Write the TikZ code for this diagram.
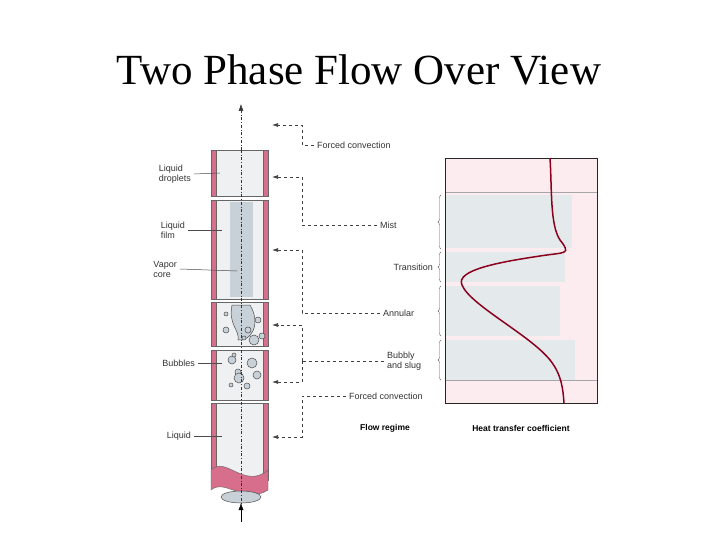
\documentclass[tikz,border=0pt]{standalone}
\usepackage{fontspec}
\setmainfont{Liberation Serif}
\newfontfamily\lsans{Liberation Sans}
\usetikzlibrary{arrows.meta,decorations.pathreplacing}
\definecolor{wallc}{RGB}{214,110,140}
\definecolor{inside}{RGB}{238,240,242}
\definecolor{core}{RGB}{200,208,216}
\definecolor{panel}{RGB}{252,236,240}
\definecolor{band}{RGB}{228,234,236}
\definecolor{curvec}{RGB}{140,0,30}
\begin{document}
\begin{tikzpicture}[x=1pt,y=-1pt,
  lbl/.style={font=\lsans\fontsize{9}{10}\selectfont,text=black!80,align=left,inner sep=3pt},
  blbl/.style={font=\lsans\bfseries\fontsize{8.5}{10}\selectfont,inner sep=1pt},
  dsh/.style={dashed,black!75,line width=0.7pt},
  dar/.style={dsh,-{Latex[length=6pt,width=4pt]}},
  lead/.style={black!70,line width=0.5pt},
  wall/.style={fill=wallc,draw=black!60,line width=0.4pt},
  seg/.style={fill=inside,draw=black!60,line width=0.5pt},
  bub/.style={fill=core,draw=black!70,line width=0.5pt}]
\useasboundingbox (0,0) rectangle (720,540);
\node[font=\fontsize{43}{48}\selectfont] (title) at (359,70) {Two Phase Flow Over View};
% pipe segments
\foreach \t/\b in {150/196,200/299,302/346,350/400,403/480}{
  \path[seg] (211,\t) rectangle (268,\b);
  \path[wall] (211,\t) rectangle (216,\b);
  \path[wall] (263,\t) rectangle (268,\b);
}
\fill[core] (230,202) rectangle (253,297);
\path[bub] (232,305) .. controls (228,325) and (240,330) .. (238,340) .. controls (250,342) and (262,325) .. (250,305) -- cycle;
\foreach \x/\y/\r in {226/330/3,248/330/3,258/320/3,254/340/5,244/338/2,226/314/2,262/336/3,232/360/4,252/363/5,238/372/3,239/378/5,257/375/4,247/386/3,231/385/2,234/355/2}
  \path[bub] (\x,\y) circle (\r);
\path[fill=wallc,draw=black!60] (211,470) .. controls (225,455) and (245,490) .. (268,470) -- (268,490) .. controls (245,505) and (225,478) .. (211,490) -- cycle;
\path[bub] (241,497) ellipse (20 and 6);
% axis
\coordinate (atop) at (241,104);
\coordinate (abot) at (241,522);
\draw[dash dot,black!80,line width=0.5pt,-{Latex[length=7pt,width=5pt]}] (241,150) -- (atop);
\draw[dash dot,black!80,line width=0.5pt] (241,150) -- (241,505);
\draw[black,-{Latex[length=7pt,width=5pt]}] (abot) -- (241,503);
% left labels
\node[lbl,anchor=east] (ld) at (194,174) {Liquid\\droplets};
\node[lbl,anchor=east] (lf) at (188,230) {Liquid\\film};
\node[lbl,anchor=east] (vc) at (180,269) {Vapor\\core};
\node[lbl,anchor=east] (bu) at (198,363) {Bubbles};
\node[lbl,anchor=east] (lq) at (194,436) {Liquid};
\coordinate (pld) at (220,173); \coordinate (plf) at (222,230);
\coordinate (pvc) at (237,271); \coordinate (pbu) at (222,363);
\coordinate (plq) at (222,436);
\draw[lead] (ld.east) -- (pld); \draw[lead] (lf.east) -- (plf);
\draw[lead] (vc.east) -- (pvc); \draw[lead] (bu.east) -- (pbu);
\draw[lead] (lq.east) -- (plq);
% regime labels
\node[lbl,anchor=west] (fc1) at (314,145) {Forced convection};
\node[lbl,anchor=west] (mi) at (377,225) {Mist};
\node[lbl,anchor=west] (an) at (380,313) {Annular};
\node[lbl,anchor=west] (bs) at (384,361) {Bubbly\\and slug};
\node[lbl,anchor=west] (fc2) at (346,396) {Forced convection};
\node[lbl,anchor=east] (tr) at (436,267) {Transition};
\foreach \n/\y in {a1/125,a2/177,a3/250,a4/325,a5/382,a6/437} \coordinate (\n) at (272,\y);
\draw[dar] (fc1.west) -- (302,145) -- (302,125) -- (a1);
\draw[dar] (mi.west) -- (302,225) -- (302,177) -- (a2);
\draw[dar] (an.west) -- (302,313) -- (302,250) -- (a3);
\draw[dsh] (bs.west) -- (302,361);
\draw[dar] (302,361) -- (302,325) -- (a4);
\draw[dar] (302,361) -- (302,382) -- (a5);
\draw[dar] (fc2.west) -- (302,396) -- (302,437) -- (a6);
\node[blbl] (fr) at (385,428) {Flow regime};
\node[blbl] (htc) at (521,428) {Heat transfer coefficient};
% panel
\path[fill=panel] (445,158) rectangle (597,403);
\fill[band] (445,195) rectangle (572,248);
\fill[band] (445,252) rectangle (565,282);
\fill[band] (445,286) rectangle (560,336);
\fill[band] (445,340) rectangle (575,380);
\draw[black!35] (445,192) -- (597,192) (445,380) -- (597,380);
\draw[black!85,line width=0.8pt] (445,158) rectangle (597,403);
\foreach \a/\b in {195/249,252/282,286/336,340/380}
  \draw[decorate,decoration={brace,amplitude=3pt},black!60] (441,\b) -- (441,\a);
\draw[curvec,line width=1.5pt] (550,158) .. controls (552,190) and (550,225) .. (560,240)
  .. controls (572,255) and (565,252) .. (540,256)
  .. controls (500,262) and (455,270) .. (462,285)
  .. controls (470,305) and (530,335) .. (550,360)
  .. controls (562,375) and (563,390) .. (564,403);
\end{tikzpicture}
\end{document}
